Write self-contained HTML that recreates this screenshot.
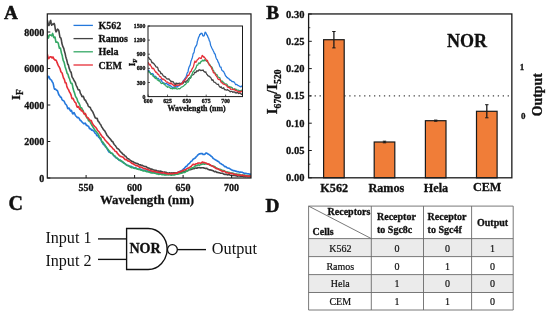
<!DOCTYPE html>
<html lang="en">
<head>
<meta charset="utf-8">
<title>NOR logic gate figure</title>
<style>
html,body{margin:0;padding:0;background:#fff;}
body{width:550px;height:319px;overflow:hidden;font-family:"Liberation Serif",serif;}
svg text{white-space:pre;}
svg text[font-weight=bold]{stroke:#111;stroke-width:.3px;}
svg text.pl{stroke-width:.5px;}
svg text.tb{stroke:#111;stroke-width:.2px;}
</style>
</head>
<body>
<svg width="550" height="319" viewBox="0 0 550 319" style="display:block">
<rect width="550" height="319" fill="#fff"/>
<g font-family="'Liberation Serif', 'Times New Roman', serif" fill="#111">
<g id="panelA">
<clipPath id="cA"><rect x="47.3" y="14" width="203.7" height="164"/></clipPath>
<g clip-path="url(#cA)">
<polyline points="47.3,79.3 47.8,77.7 48.3,76.6 48.8,76.3 49.2,77.1 49.7,78.5 50.2,79.3 50.7,79.6 51.2,80.0 51.7,80.6 52.1,81.7 52.6,82.3 53.1,83.2 53.6,85.5 54.1,87.9 54.6,89.3 55.1,89.2 55.5,89.0 56.0,89.8 56.5,90.3 57.0,90.4 57.5,90.9 58.0,92.2 58.5,93.9 58.9,94.9 59.4,95.4 59.9,96.2 60.4,97.1 60.9,97.1 61.4,97.6 61.8,99.2 62.3,100.0 62.8,100.4 63.3,100.6 63.8,100.8 64.3,101.6 64.8,102.8 65.2,103.8 65.7,104.2 66.2,104.7 66.7,105.4 67.2,106.8 67.7,108.6 68.2,108.8 68.6,108.0 69.1,108.0 69.6,109.0 70.1,110.4 70.6,111.1 71.1,110.4 71.5,110.5 72.0,111.9 72.5,113.4 73.0,114.0 73.5,113.1 74.0,112.5 74.5,113.3 74.9,114.2 75.4,115.3 75.9,116.1 76.4,116.4 76.9,117.2 77.4,117.7 77.9,117.4 78.3,117.5 78.8,117.9 79.3,118.7 79.8,119.8 80.3,120.4 80.8,120.4 81.2,120.9 81.7,121.8 82.2,122.1 82.7,122.5 83.2,123.2 83.7,123.8 84.2,123.8 84.6,123.4 85.1,123.0 85.6,123.5 86.1,125.0 86.6,125.5 87.1,125.3 87.6,125.9 88.0,126.2 88.5,126.2 89.0,127.3 89.5,128.6 90.0,128.9 90.5,128.6 90.9,129.0 91.4,130.0 91.9,130.3 92.4,130.0 92.9,130.3 93.4,130.9 93.9,131.1 94.3,131.8 94.8,133.0 95.3,133.2 95.8,133.4 96.3,134.5 96.8,135.6 97.3,135.6 97.7,135.3 98.2,136.2 98.7,137.3 99.2,137.6 99.7,138.4 100.2,139.0 100.7,139.2 101.1,140.1 101.6,141.3 102.1,142.3 102.6,142.9 103.1,144.1 103.6,144.7 104.0,144.3 104.5,144.7 105.0,145.8 105.5,146.8 106.0,147.1 106.5,147.3 107.0,148.2 107.4,149.4 107.9,150.3 108.4,151.0 108.9,151.9 109.4,152.3 109.9,152.3 110.3,152.7 110.8,153.1 111.3,153.2 111.8,153.2 112.3,153.7 112.8,154.4 113.3,155.0 113.7,155.7 114.2,156.1 114.7,156.4 115.2,157.1 115.7,157.6 116.2,158.0 116.7,158.0 117.1,158.1 117.6,158.7 118.1,159.3 118.6,159.8 119.1,160.3 119.6,160.4 120.0,160.0 120.5,160.1 121.0,160.8 121.5,161.5 122.0,161.7 122.5,162.0 123.0,162.2 123.4,162.5 123.9,162.8 124.4,163.2 124.9,163.7 125.4,164.2 125.9,164.6 126.4,164.8 126.8,165.0 127.3,165.2 127.8,165.4 128.3,165.5 128.8,165.7 129.3,166.2 129.8,166.5 130.2,166.5 130.7,166.3 131.2,166.3 131.7,166.7 132.2,167.0 132.7,167.2 133.1,167.5 133.6,167.6 134.1,168.0 134.6,168.3 135.1,167.7 135.6,167.8 136.1,168.4 136.5,168.6 137.0,168.6 137.5,168.9 138.0,169.2 138.5,169.2 139.0,169.1 139.4,169.1 139.9,169.1 140.4,169.1 140.9,169.2 141.4,169.6 141.9,170.0 142.4,170.3 142.8,170.3 143.3,170.1 143.8,170.2 144.3,170.4 144.8,170.5 145.3,170.8 145.8,170.9 146.2,171.0 146.7,171.0 147.2,170.9 147.7,171.0 148.2,171.4 148.7,171.6 149.1,171.5 149.6,171.5 150.1,171.4 150.6,171.3 151.1,171.6 151.6,172.0 152.1,172.3 152.5,172.5 153.0,172.7 153.5,172.7 154.0,172.8 154.5,172.7 155.0,172.7 155.5,172.9 155.9,173.1 156.4,173.1 156.9,173.0 157.4,172.9 157.9,173.0 158.4,173.1 158.8,173.2 159.3,173.5 159.8,173.4 160.3,173.4 160.8,173.7 161.3,173.7 161.8,173.6 162.2,173.8 162.7,173.9 163.2,173.9 163.7,174.1 164.2,174.2 164.7,174.4 165.2,174.5 165.6,174.4 166.1,174.3 166.6,174.3 167.1,174.4 167.6,174.4 168.1,174.1 168.6,174.0 169.0,174.2 169.5,174.3 170.0,174.3 170.5,174.1 171.0,174.2 171.5,174.3 171.9,173.8 172.4,173.6 172.9,173.9 173.4,173.8 173.9,173.6 174.4,173.5 174.9,173.4 175.3,173.4 175.8,173.1 176.3,172.7 176.8,172.7 177.3,172.6 177.8,172.4 178.2,172.1 178.7,171.8 179.2,171.7 179.7,171.5 180.2,171.2 180.7,170.9 181.2,170.7 181.6,170.7 182.1,170.2 182.6,169.8 183.1,169.3 183.6,168.7 184.1,168.6 184.6,168.2 185.0,167.5 185.5,166.9 186.0,166.4 186.5,166.2 187.0,166.0 187.5,165.3 187.9,164.5 188.4,164.1 188.9,163.8 189.4,163.4 189.9,162.9 190.4,162.2 190.9,161.4 191.3,161.2 191.8,161.0 192.3,160.4 192.8,159.6 193.3,159.1 193.8,158.9 194.3,158.5 194.7,158.2 195.2,158.1 195.7,157.5 196.2,156.7 196.7,156.3 197.2,155.7 197.6,155.1 198.1,154.8 198.6,154.5 199.1,153.9 199.6,153.9 200.1,153.9 200.6,153.6 201.0,153.5 201.5,153.6 202.0,153.5 202.5,153.8 203.0,154.4 203.5,154.5 204.0,154.4 204.4,154.5 204.9,154.3 205.4,153.6 205.9,153.0 206.4,153.1 206.9,153.3 207.3,153.5 207.8,154.0 208.3,154.1 208.8,154.2 209.3,154.8 209.8,155.2 210.3,155.3 210.7,155.9 211.2,156.3 211.7,156.5 212.2,157.0 212.7,157.9 213.2,158.4 213.7,158.6 214.1,159.0 214.6,159.4 215.1,159.6 215.6,159.9 216.1,160.3 216.6,160.5 217.1,160.8 217.5,161.3 218.0,161.4 218.5,161.5 219.0,162.1 219.5,162.7 220.0,163.2 220.4,163.5 220.9,163.6 221.4,163.9 221.9,164.4 222.4,164.7 222.9,164.8 223.4,165.3 223.8,165.7 224.3,166.2 224.8,166.6 225.3,166.5 225.8,166.5 226.3,167.1 226.8,167.6 227.2,167.8 227.7,168.0 228.2,168.1 228.7,168.2 229.2,168.3 229.7,168.6 230.1,168.9 230.6,169.2 231.1,169.6 231.6,170.0 232.1,170.1 232.6,170.2 233.1,170.5 233.5,170.7 234.0,170.6 234.5,170.7 235.0,171.0 235.5,171.1 236.0,171.1 236.4,171.3 236.9,171.6 237.4,171.7 237.9,171.6 238.4,171.7 238.9,171.9 239.4,172.1 239.8,172.2 240.3,172.1 240.8,172.1 241.3,172.3 241.8,172.2 242.3,172.3 242.8,172.6 243.2,172.8 243.7,173.1 244.2,173.4 244.7,173.4 245.2,173.3 245.7,173.3 246.1,173.4 246.6,173.5 247.1,173.7 247.6,173.7 248.1,173.8 248.6,173.9 249.1,173.9 249.5,174.1 250.0,174.2 250.5,174.2 251.0,174.0" fill="none" stroke="#2478dc" stroke-width="1.6" stroke-linejoin="round" stroke-linecap="round"/>
<polyline points="47.3,20.3 47.8,22.3 48.3,24.3 48.8,25.5 49.2,25.0 49.7,23.5 50.2,21.0 50.7,20.4 51.2,23.2 51.7,25.2 52.1,24.8 52.6,24.1 53.1,24.3 53.6,24.4 54.1,23.4 54.6,24.5 55.1,27.8 55.5,30.5 56.0,31.8 56.5,31.5 57.0,30.0 57.5,29.2 58.0,29.5 58.5,30.0 58.9,31.0 59.4,34.1 59.9,37.2 60.4,37.8 60.9,38.0 61.4,40.2 61.8,43.0 62.3,44.7 62.8,46.4 63.3,47.5 63.8,48.4 64.3,50.8 64.8,52.4 65.2,53.8 65.7,56.4 66.2,58.3 66.7,59.7 67.2,61.9 67.7,64.1 68.2,64.6 68.6,65.8 69.1,68.2 69.6,69.3 70.1,70.7 70.6,72.0 71.1,72.1 71.5,74.2 72.0,76.9 72.5,77.7 73.0,78.2 73.5,79.4 74.0,80.3 74.5,81.3 74.9,81.8 75.4,82.7 75.9,84.5 76.4,85.8 76.9,86.6 77.4,87.8 77.9,89.1 78.3,89.8 78.8,89.9 79.3,89.8 79.8,90.9 80.3,93.1 80.8,93.9 81.2,94.5 81.7,96.1 82.2,96.6 82.7,96.2 83.2,96.2 83.7,97.3 84.2,98.9 84.6,99.9 85.1,100.1 85.6,100.3 86.1,101.7 86.6,102.7 87.1,103.2 87.6,104.1 88.0,105.3 88.5,106.3 89.0,106.8 89.5,107.1 90.0,107.2 90.5,108.0 90.9,109.1 91.4,110.0 91.9,110.8 92.4,111.3 92.9,112.1 93.4,113.4 93.9,114.5 94.3,115.5 94.8,116.9 95.3,117.9 95.8,118.1 96.3,118.4 96.8,118.3 97.3,118.5 97.7,120.3 98.2,121.5 98.7,121.7 99.2,122.3 99.7,123.3 100.2,124.1 100.7,124.5 101.1,125.5 101.6,126.8 102.1,127.4 102.6,128.1 103.1,129.0 103.6,129.7 104.0,130.2 104.5,130.6 105.0,131.3 105.5,132.3 106.0,133.2 106.5,134.3 107.0,135.4 107.4,135.8 107.9,136.2 108.4,137.0 108.9,137.5 109.4,138.1 109.9,138.6 110.3,139.1 110.8,139.6 111.3,140.5 111.8,141.4 112.3,141.3 112.8,141.7 113.3,142.8 113.7,143.7 114.2,144.5 114.7,145.0 115.2,145.4 115.7,146.1 116.2,146.9 116.7,147.6 117.1,148.3 117.6,148.7 118.1,148.8 118.6,149.2 119.1,149.7 119.6,150.4 120.0,151.2 120.5,151.7 121.0,152.2 121.5,152.6 122.0,153.1 122.5,153.7 123.0,154.4 123.4,154.5 123.9,154.6 124.4,155.4 124.9,156.0 125.4,156.0 125.9,156.4 126.4,157.2 126.8,157.8 127.3,158.2 127.8,158.7 128.3,158.7 128.8,158.9 129.3,159.5 129.8,159.9 130.2,160.1 130.7,160.5 131.2,160.9 131.7,161.4 132.2,161.6 132.7,161.5 133.1,161.8 133.6,162.1 134.1,162.4 134.6,162.7 135.1,162.9 135.6,163.0 136.1,163.3 136.5,163.5 137.0,163.6 137.5,163.6 138.0,163.8 138.5,164.2 139.0,164.7 139.4,164.9 139.9,164.7 140.4,164.8 140.9,165.1 141.4,165.2 141.9,165.3 142.4,165.4 142.8,165.7 143.3,165.9 143.8,166.1 144.3,166.5 144.8,166.5 145.3,166.5 145.8,166.6 146.2,166.6 146.7,167.0 147.2,167.7 147.7,168.0 148.2,167.9 148.7,168.1 149.1,168.2 149.6,168.3 150.1,168.9 150.6,169.2 151.1,169.0 151.6,169.0 152.1,169.2 152.5,169.4 153.0,169.7 153.5,169.9 154.0,170.0 154.5,170.2 155.0,170.3 155.5,170.2 155.9,170.2 156.4,170.4 156.9,170.7 157.4,170.9 157.9,171.1 158.4,171.1 158.8,171.1 159.3,171.2 159.8,171.2 160.3,171.1 160.8,171.2 161.3,171.6 161.8,171.6 162.2,171.7 162.7,172.0 163.2,172.2 163.7,172.2 164.2,172.0 164.7,172.1 165.2,172.3 165.6,172.3 166.1,172.3 166.6,172.6 167.1,172.9 167.6,173.0 168.1,173.3 168.6,173.4 169.0,173.0 169.5,172.7 170.0,172.9 170.5,173.2 171.0,173.1 171.5,172.9 171.9,172.9 172.4,173.0 172.9,173.0 173.4,172.9 173.9,172.8 174.4,172.8 174.9,172.9 175.3,173.0 175.8,172.9 176.3,172.8 176.8,172.8 177.3,172.9 177.8,172.9 178.2,172.8 178.7,172.7 179.2,172.3 179.7,172.2 180.2,172.3 180.7,172.2 181.2,172.3 181.6,172.5 182.1,172.2 182.6,171.9 183.1,171.9 183.6,171.9 184.1,171.7 184.6,171.4 185.0,171.1 185.5,171.0 186.0,170.9 186.5,170.7 187.0,170.7 187.5,170.8 187.9,170.6 188.4,170.1 188.9,169.8 189.4,169.7 189.9,169.7 190.4,169.6 190.9,169.5 191.3,169.4 191.8,169.3 192.3,169.0 192.8,168.6 193.3,168.6 193.8,168.7 194.3,168.7 194.7,168.4 195.2,168.0 195.7,168.0 196.2,168.1 196.7,168.1 197.2,168.1 197.6,167.8 198.1,167.6 198.6,167.7 199.1,167.7 199.6,167.6 200.1,167.8 200.6,167.9 201.0,167.9 201.5,167.8 202.0,167.8 202.5,167.8 203.0,167.7 203.5,167.7 204.0,168.0 204.4,168.3 204.9,168.3 205.4,168.4 205.9,168.6 206.4,168.4 206.9,168.4 207.3,168.8 207.8,169.2 208.3,169.4 208.8,169.5 209.3,169.9 209.8,170.0 210.3,169.9 210.7,170.1 211.2,170.1 211.7,170.2 212.2,170.5 212.7,170.6 213.2,170.7 213.7,171.1 214.1,171.5 214.6,171.7 215.1,171.6 215.6,171.4 216.1,171.7 216.6,172.2 217.1,172.4 217.5,172.4 218.0,172.4 218.5,172.6 219.0,172.7 219.5,172.8 220.0,173.0 220.4,173.1 220.9,173.2 221.4,173.3 221.9,173.2 222.4,173.2 222.9,173.4 223.4,173.8 223.8,174.1 224.3,174.2 224.8,174.4 225.3,174.4 225.8,174.2 226.3,174.2 226.8,174.6 227.2,174.8 227.7,174.9 228.2,174.8 228.7,174.6 229.2,174.5 229.7,174.9 230.1,175.2 230.6,175.3 231.1,175.3 231.6,175.4 232.1,175.5 232.6,175.5 233.1,175.5 233.5,175.3 234.0,175.3 234.5,175.4 235.0,175.6 235.5,175.7 236.0,175.7 236.4,175.9 236.9,176.0 237.4,176.1 237.9,176.1 238.4,175.9 238.9,175.9 239.4,175.9 239.8,176.0 240.3,176.3 240.8,176.3 241.3,176.2 241.8,176.2 242.3,176.2 242.8,176.2 243.2,176.3 243.7,176.6 244.2,176.6 244.7,176.4 245.2,176.5 245.7,176.7 246.1,176.5 246.6,176.4 247.1,176.5 247.6,176.7 248.1,176.8 248.6,176.8 249.1,176.6 249.5,176.6 250.0,176.7 250.5,176.8 251.0,177.0" fill="none" stroke="#444444" stroke-width="1.6" stroke-linejoin="round" stroke-linecap="round"/>
<polyline points="47.3,35.3 47.8,36.8 48.3,38.1 48.8,37.0 49.2,35.2 49.7,34.7 50.2,35.0 50.7,35.2 51.2,35.2 51.7,35.9 52.1,35.1 52.6,33.4 53.1,34.8 53.6,37.1 54.1,37.6 54.6,37.0 55.1,37.3 55.5,40.0 56.0,42.2 56.5,42.2 57.0,42.1 57.5,42.3 58.0,42.7 58.5,44.1 58.9,46.3 59.4,48.2 59.9,48.1 60.4,48.0 60.9,50.4 61.4,53.1 61.8,54.3 62.3,55.8 62.8,58.8 63.3,60.7 63.8,61.4 64.3,63.1 64.8,65.3 65.2,67.0 65.7,68.5 66.2,69.9 66.7,71.7 67.2,73.4 67.7,73.9 68.2,74.8 68.6,76.8 69.1,77.9 69.6,78.9 70.1,80.7 70.6,82.3 71.1,83.4 71.5,83.4 72.0,83.4 72.5,85.5 73.0,88.3 73.5,90.1 74.0,91.7 74.5,92.8 74.9,94.2 75.4,96.1 75.9,97.0 76.4,97.7 76.9,98.6 77.4,100.2 77.9,101.7 78.3,102.3 78.8,102.9 79.3,103.9 79.8,105.0 80.3,106.8 80.8,108.0 81.2,107.7 81.7,108.0 82.2,109.2 82.7,110.0 83.2,110.7 83.7,112.2 84.2,113.4 84.6,113.6 85.1,114.3 85.6,115.4 86.1,116.0 86.6,117.2 87.1,118.0 87.6,118.1 88.0,119.2 88.5,120.7 89.0,121.0 89.5,120.8 90.0,121.6 90.5,122.8 90.9,123.5 91.4,124.2 91.9,125.3 92.4,126.0 92.9,126.8 93.4,127.8 93.9,128.5 94.3,129.0 94.8,129.8 95.3,130.8 95.8,131.3 96.3,131.6 96.8,132.3 97.3,132.9 97.7,133.6 98.2,134.2 98.7,135.1 99.2,136.4 99.7,137.4 100.2,137.9 100.7,138.1 101.1,139.2 101.6,141.1 102.1,141.9 102.6,141.9 103.1,142.3 103.6,143.1 104.0,144.1 104.5,144.7 105.0,145.3 105.5,146.0 106.0,146.9 106.5,148.0 107.0,148.4 107.4,148.8 107.9,149.1 108.4,149.8 108.9,150.6 109.4,151.0 109.9,151.7 110.3,152.5 110.8,153.0 111.3,153.1 111.8,153.1 112.3,153.6 112.8,154.1 113.3,154.6 113.7,155.2 114.2,155.7 114.7,155.9 115.2,156.3 115.7,157.0 116.2,157.6 116.7,157.9 117.1,158.4 117.6,158.8 118.1,159.0 118.6,159.3 119.1,159.8 119.6,160.2 120.0,160.4 120.5,160.7 121.0,161.0 121.5,161.0 122.0,161.3 122.5,161.6 123.0,162.1 123.4,162.8 123.9,163.2 124.4,163.3 124.9,163.6 125.4,163.9 125.9,164.5 126.4,164.9 126.8,165.2 127.3,165.5 127.8,165.5 128.3,165.7 128.8,166.0 129.3,166.1 129.8,166.4 130.2,166.9 130.7,167.3 131.2,167.5 131.7,167.7 132.2,167.5 132.7,167.4 133.1,167.7 133.6,167.9 134.1,168.2 134.6,168.3 135.1,168.4 135.6,168.5 136.1,168.4 136.5,168.4 137.0,168.8 137.5,169.1 138.0,169.3 138.5,169.4 139.0,169.4 139.4,169.5 139.9,169.6 140.4,169.8 140.9,170.2 141.4,170.3 141.9,170.2 142.4,170.5 142.8,170.7 143.3,170.9 143.8,171.0 144.3,170.8 144.8,170.5 145.3,170.9 145.8,171.4 146.2,171.6 146.7,171.6 147.2,171.6 147.7,171.8 148.2,172.0 148.7,171.8 149.1,171.9 149.6,172.3 150.1,172.6 150.6,172.8 151.1,172.9 151.6,173.0 152.1,172.9 152.5,172.9 153.0,172.8 153.5,172.7 154.0,172.9 154.5,173.3 155.0,173.2 155.5,173.3 155.9,173.6 156.4,173.8 156.9,173.9 157.4,173.9 157.9,173.9 158.4,174.3 158.8,174.4 159.3,174.2 159.8,174.2 160.3,174.3 160.8,174.3 161.3,174.4 161.8,174.5 162.2,174.8 162.7,174.8 163.2,174.8 163.7,174.8 164.2,174.8 164.7,175.0 165.2,175.0 165.6,174.8 166.1,174.9 166.6,174.9 167.1,174.6 167.6,174.6 168.1,175.0 168.6,174.9 169.0,174.6 169.5,174.7 170.0,174.9 170.5,175.0 171.0,175.1 171.5,175.1 171.9,175.0 172.4,174.9 172.9,174.9 173.4,175.0 173.9,175.0 174.4,174.9 174.9,174.8 175.3,174.6 175.8,174.4 176.3,174.3 176.8,174.3 177.3,174.2 177.8,174.2 178.2,174.1 178.7,173.9 179.2,173.8 179.7,173.7 180.2,173.4 180.7,173.3 181.2,173.3 181.6,173.2 182.1,173.0 182.6,172.8 183.1,172.5 183.6,172.3 184.1,172.4 184.6,172.5 185.0,172.2 185.5,172.0 186.0,171.5 186.5,170.9 187.0,170.8 187.5,170.9 187.9,170.5 188.4,170.0 188.9,169.8 189.4,169.6 189.9,169.0 190.4,168.5 190.9,168.4 191.3,168.3 191.8,168.1 192.3,167.8 192.8,167.7 193.3,167.5 193.8,167.2 194.3,167.0 194.7,166.7 195.2,166.1 195.7,165.7 196.2,165.8 196.7,165.8 197.2,165.5 197.6,165.1 198.1,164.9 198.6,165.0 199.1,165.2 199.6,165.2 200.1,164.9 200.6,164.4 201.0,164.4 201.5,164.4 202.0,164.3 202.5,164.0 203.0,163.9 203.5,163.9 204.0,164.1 204.4,164.2 204.9,163.9 205.4,163.7 205.9,164.0 206.4,164.0 206.9,163.9 207.3,164.1 207.8,164.3 208.3,164.3 208.8,164.4 209.3,164.7 209.8,165.1 210.3,165.2 210.7,165.4 211.2,165.6 211.7,165.7 212.2,165.7 212.7,166.0 213.2,166.3 213.7,166.4 214.1,166.4 214.6,166.6 215.1,166.9 215.6,167.4 216.1,167.7 216.6,167.9 217.1,168.3 217.5,168.5 218.0,168.7 218.5,169.0 219.0,169.4 219.5,169.5 220.0,169.4 220.4,169.4 220.9,169.6 221.4,169.9 221.9,170.3 222.4,170.4 222.9,170.5 223.4,170.6 223.8,170.6 224.3,170.7 224.8,171.2 225.3,171.7 225.8,171.9 226.3,172.1 226.8,172.1 227.2,171.9 227.7,172.2 228.2,172.5 228.7,172.4 229.2,172.4 229.7,172.8 230.1,173.1 230.6,173.1 231.1,173.1 231.6,173.1 232.1,173.1 232.6,173.1 233.1,173.2 233.5,173.3 234.0,173.7 234.5,174.0 235.0,174.0 235.5,174.0 236.0,174.1 236.4,174.1 236.9,174.3 237.4,174.4 237.9,174.3 238.4,174.3 238.9,174.4 239.4,174.4 239.8,174.5 240.3,174.8 240.8,175.2 241.3,175.2 241.8,175.1 242.3,175.2 242.8,175.0 243.2,175.0 243.7,175.2 244.2,175.3 244.7,175.1 245.2,175.3 245.7,175.6 246.1,175.5 246.6,175.5 247.1,175.5 247.6,175.5 248.1,175.7 248.6,175.8 249.1,175.7 249.5,175.6 250.0,175.8 250.5,175.8 251.0,175.6" fill="none" stroke="#35a865" stroke-width="1.6" stroke-linejoin="round" stroke-linecap="round"/>
<polyline points="47.3,54.3 47.8,56.2 48.3,58.2 48.8,58.6 49.2,57.9 49.7,57.1 50.2,56.9 50.7,56.8 51.2,56.9 51.7,57.7 52.1,58.0 52.6,57.0 53.1,57.1 53.6,58.6 54.1,59.1 54.6,59.7 55.1,60.1 55.5,60.0 56.0,60.3 56.5,60.9 57.0,62.4 57.5,63.6 58.0,64.9 58.5,66.0 58.9,66.5 59.4,67.3 59.9,68.3 60.4,70.0 60.9,71.7 61.4,72.4 61.8,72.6 62.3,73.7 62.8,75.6 63.3,77.4 63.8,78.6 64.3,79.2 64.8,81.0 65.2,82.7 65.7,82.5 66.2,83.2 66.7,85.7 67.2,87.4 67.7,88.4 68.2,89.2 68.6,89.8 69.1,91.2 69.6,92.2 70.1,92.8 70.6,93.9 71.1,95.1 71.5,96.7 72.0,98.5 72.5,98.8 73.0,98.3 73.5,99.3 74.0,100.6 74.5,101.4 74.9,102.3 75.4,102.5 75.9,103.0 76.4,105.0 76.9,106.6 77.4,107.1 77.9,107.1 78.3,106.5 78.8,106.9 79.3,108.4 79.8,109.4 80.3,108.9 80.8,109.3 81.2,110.7 81.7,110.9 82.2,110.8 82.7,111.2 83.2,112.2 83.7,113.2 84.2,114.1 84.6,114.0 85.1,113.4 85.6,114.0 86.1,115.5 86.6,116.9 87.1,117.7 87.6,117.7 88.0,117.8 88.5,118.3 89.0,119.2 89.5,120.1 90.0,120.4 90.5,120.4 90.9,120.3 91.4,120.8 91.9,122.4 92.4,123.6 92.9,124.1 93.4,124.9 93.9,125.5 94.3,126.1 94.8,126.6 95.3,126.9 95.8,127.3 96.3,128.1 96.8,128.9 97.3,129.9 97.7,130.6 98.2,131.0 98.7,131.5 99.2,131.9 99.7,132.8 100.2,133.7 100.7,134.3 101.1,135.1 101.6,135.7 102.1,136.4 102.6,137.2 103.1,137.3 103.6,137.6 104.0,138.4 104.5,139.1 105.0,139.9 105.5,140.5 106.0,141.0 106.5,141.5 107.0,142.1 107.4,142.7 107.9,143.0 108.4,143.4 108.9,144.2 109.4,144.7 109.9,145.3 110.3,146.1 110.8,146.4 111.3,146.7 111.8,147.2 112.3,147.9 112.8,148.7 113.3,149.1 113.7,149.3 114.2,149.8 114.7,150.7 115.2,151.4 115.7,151.5 116.2,151.5 116.7,152.1 117.1,153.0 117.6,153.7 118.1,153.9 118.6,154.6 119.1,155.4 119.6,155.6 120.0,156.1 120.5,156.5 121.0,156.5 121.5,156.5 122.0,156.9 122.5,157.1 123.0,157.0 123.4,157.5 123.9,158.2 124.4,158.9 124.9,159.4 125.4,159.6 125.9,159.6 126.4,159.8 126.8,160.0 127.3,160.4 127.8,160.9 128.3,161.1 128.8,161.1 129.3,161.3 129.8,161.6 130.2,162.0 130.7,162.4 131.2,162.8 131.7,163.3 132.2,163.6 132.7,163.6 133.1,163.7 133.6,164.1 134.1,164.6 134.6,164.8 135.1,165.0 135.6,165.4 136.1,165.8 136.5,165.6 137.0,165.5 137.5,165.8 138.0,166.2 138.5,166.3 139.0,166.6 139.4,167.2 139.9,167.2 140.4,167.0 140.9,167.0 141.4,167.1 141.9,167.4 142.4,167.8 142.8,168.0 143.3,168.2 143.8,168.5 144.3,168.6 144.8,168.5 145.3,168.6 145.8,169.0 146.2,169.3 146.7,169.3 147.2,169.3 147.7,169.5 148.2,169.7 148.7,170.1 149.1,170.3 149.6,170.3 150.1,170.2 150.6,170.4 151.1,170.9 151.6,171.0 152.1,171.0 152.5,171.3 153.0,171.4 153.5,171.2 154.0,171.2 154.5,171.4 155.0,171.6 155.5,171.6 155.9,171.7 156.4,171.9 156.9,172.2 157.4,172.3 157.9,172.3 158.4,172.4 158.8,172.4 159.3,172.5 159.8,172.7 160.3,172.8 160.8,172.8 161.3,172.8 161.8,173.0 162.2,173.1 162.7,172.8 163.2,172.6 163.7,172.8 164.2,173.1 164.7,173.2 165.2,173.2 165.6,173.4 166.1,173.6 166.6,173.5 167.1,173.5 167.6,173.7 168.1,174.0 168.6,173.9 169.0,173.7 169.5,173.7 170.0,173.7 170.5,173.6 171.0,173.5 171.5,173.6 171.9,173.6 172.4,173.6 172.9,173.7 173.4,173.5 173.9,173.3 174.4,173.3 174.9,173.4 175.3,173.3 175.8,173.1 176.3,173.0 176.8,173.2 177.3,173.1 177.8,172.6 178.2,172.1 178.7,172.0 179.2,172.1 179.7,171.8 180.2,171.5 180.7,171.6 181.2,171.5 181.6,171.1 182.1,170.9 182.6,170.8 183.1,170.6 183.6,170.1 184.1,169.8 184.6,169.8 185.0,169.8 185.5,169.8 186.0,169.4 186.5,168.9 187.0,168.6 187.5,168.3 187.9,168.3 188.4,168.2 188.9,167.8 189.4,167.4 189.9,167.2 190.4,166.8 190.9,166.6 191.3,166.3 191.8,165.6 192.3,165.0 192.8,164.6 193.3,164.2 193.8,164.5 194.3,164.7 194.7,164.6 195.2,164.3 195.7,163.9 196.2,163.7 196.7,163.7 197.2,163.5 197.6,163.3 198.1,163.1 198.6,163.0 199.1,163.0 199.6,163.0 200.1,163.1 200.6,163.2 201.0,163.3 201.5,162.8 202.0,162.2 202.5,162.0 203.0,162.2 203.5,162.5 204.0,162.7 204.4,162.5 204.9,162.7 205.4,162.9 205.9,163.1 206.4,163.3 206.9,163.5 207.3,163.9 207.8,164.2 208.3,164.1 208.8,163.9 209.3,164.4 209.8,164.8 210.3,164.9 210.7,165.3 211.2,165.8 211.7,165.9 212.2,166.0 212.7,166.2 213.2,166.5 213.7,166.7 214.1,167.2 214.6,167.5 215.1,167.7 215.6,167.9 216.1,168.5 216.6,168.8 217.1,168.8 217.5,168.8 218.0,168.9 218.5,169.2 219.0,169.6 219.5,169.8 220.0,170.0 220.4,170.2 220.9,170.4 221.4,170.8 221.9,171.1 222.4,171.2 222.9,171.4 223.4,171.4 223.8,171.3 224.3,171.3 224.8,171.4 225.3,171.9 225.8,172.3 226.3,172.5 226.8,172.6 227.2,172.7 227.7,172.7 228.2,173.0 228.7,173.2 229.2,173.1 229.7,173.1 230.1,173.2 230.6,173.3 231.1,173.4 231.6,173.5 232.1,173.5 232.6,173.7 233.1,173.8 233.5,174.0 234.0,174.3 234.5,174.4 235.0,174.3 235.5,174.5 236.0,174.6 236.4,174.4 236.9,174.6 237.4,175.0 237.9,175.2 238.4,175.1 238.9,175.0 239.4,175.1 239.8,175.2 240.3,175.2 240.8,175.2 241.3,175.3 241.8,175.3 242.3,175.1 242.8,175.1 243.2,175.4 243.7,175.7 244.2,175.6 244.7,175.6 245.2,175.7 245.7,175.8 246.1,175.8 246.6,175.9 247.1,176.0 247.6,176.0 248.1,176.2 248.6,176.2 249.1,176.0 249.5,175.9 250.0,176.1 250.5,176.2 251.0,176.1" fill="none" stroke="#e62e37" stroke-width="1.6" stroke-linejoin="round" stroke-linecap="round"/>
</g>
<rect x="47.3" y="13.9" width="203.7" height="164.1" fill="none" stroke="#1a1a1a" stroke-width="1.2"/>
<line x1="47.3" x2="50.3" y1="178.0" y2="178.0" stroke="#1a1a1a" stroke-width="1"/>
<text x="44.2" y="181.5" font-size="10" font-weight="bold" text-anchor="end">0</text>
<line x1="47.3" x2="50.3" y1="141.5" y2="141.5" stroke="#1a1a1a" stroke-width="1"/>
<text x="44.2" y="145.0" font-size="10" font-weight="bold" text-anchor="end">2000</text>
<line x1="47.3" x2="50.3" y1="105.0" y2="105.0" stroke="#1a1a1a" stroke-width="1"/>
<text x="44.2" y="108.5" font-size="10" font-weight="bold" text-anchor="end">4000</text>
<line x1="47.3" x2="50.3" y1="68.5" y2="68.5" stroke="#1a1a1a" stroke-width="1"/>
<text x="44.2" y="72.0" font-size="10" font-weight="bold" text-anchor="end">6000</text>
<line x1="47.3" x2="50.3" y1="32.0" y2="32.0" stroke="#1a1a1a" stroke-width="1"/>
<text x="44.2" y="35.5" font-size="10" font-weight="bold" text-anchor="end">8000</text>
<line x1="86.1" x2="86.1" y1="178" y2="175" stroke="#1a1a1a" stroke-width="1"/>
<text x="86.1" y="190.5" font-size="10" font-weight="bold" text-anchor="middle">550</text>
<line x1="134.6" x2="134.6" y1="178" y2="175" stroke="#1a1a1a" stroke-width="1"/>
<text x="134.6" y="190.5" font-size="10" font-weight="bold" text-anchor="middle">600</text>
<line x1="183.1" x2="183.1" y1="178" y2="175" stroke="#1a1a1a" stroke-width="1"/>
<text x="183.1" y="190.5" font-size="10" font-weight="bold" text-anchor="middle">650</text>
<line x1="231.6" x2="231.6" y1="178" y2="175" stroke="#1a1a1a" stroke-width="1"/>
<text x="231.6" y="190.5" font-size="10" font-weight="bold" text-anchor="middle">700</text>
<text x="147" y="203.8" font-size="12.8" font-weight="bold" text-anchor="middle">Wavelength (nm)</text>
<text transform="translate(19.9,100) rotate(-90)" font-size="13" font-weight="bold">I<tspan font-size="9.3" dy="3.2">F</tspan></text>
<text class="pl" x="4.0" y="19" font-size="19.2" font-weight="bold">A</text>
<line x1="73.5" x2="92.9" y1="25.4" y2="25.4" stroke="#2478dc" stroke-width="1.3"/>
<text x="98.5" y="29.0" font-size="10" font-weight="bold">K562</text>
<line x1="73.5" x2="92.9" y1="38.6" y2="38.6" stroke="#444444" stroke-width="1.3"/>
<text x="98.5" y="42.2" font-size="10" font-weight="bold">Ramos</text>
<line x1="73.5" x2="92.9" y1="51.8" y2="51.8" stroke="#35a865" stroke-width="1.3"/>
<text x="98.5" y="55.4" font-size="10" font-weight="bold">Hela</text>
<line x1="73.5" x2="92.9" y1="65.0" y2="65.0" stroke="#e62e37" stroke-width="1.3"/>
<text x="98.5" y="68.6" font-size="10" font-weight="bold">CEM</text>
<clipPath id="cI"><rect x="148" y="26" width="94.5" height="70.6"/></clipPath>
<g clip-path="url(#cI)">
<polyline points="148.2,71.5 148.6,70.1 149.0,70.3 149.4,71.8 149.7,72.3 150.1,72.5 150.5,73.1 150.9,73.9 151.3,73.9 151.7,73.6 152.1,73.5 152.5,73.7 152.8,73.8 153.2,74.0 153.6,74.9 154.0,75.9 154.4,76.8 154.8,76.7 155.2,76.2 155.6,76.6 155.9,76.9 156.3,77.3 156.7,78.0 157.1,78.2 157.5,78.5 157.9,78.5 158.3,78.3 158.6,78.7 159.0,79.6 159.4,80.0 159.8,80.0 160.2,79.9 160.6,79.5 161.0,79.3 161.4,80.2 161.7,81.2 162.1,81.8 162.5,82.4 162.9,82.8 163.3,83.0 163.7,83.1 164.1,83.0 164.5,83.0 164.8,83.4 165.2,84.0 165.6,84.1 166.0,83.6 166.4,83.5 166.8,83.6 167.2,83.9 167.5,84.3 167.9,84.9 168.3,84.7 168.7,84.7 169.1,85.6 169.5,85.5 169.9,85.3 170.3,85.8 170.6,85.9 171.0,86.1 171.4,86.7 171.8,86.9 172.2,87.2 172.6,87.4 173.0,87.4 173.4,87.2 173.7,87.0 174.1,87.2 174.5,87.2 174.9,86.5 175.3,86.3 175.7,86.8 176.1,87.1 176.5,87.0 176.8,86.6 177.2,86.8 177.6,87.0 178.0,85.9 178.4,85.3 178.8,85.9 179.2,85.7 179.5,85.2 179.9,84.9 180.3,84.6 180.7,84.7 181.1,84.0 181.5,83.0 181.9,83.0 182.3,82.8 182.6,82.2 183.0,81.4 183.4,80.6 183.8,80.2 184.2,79.8 184.6,79.2 185.0,78.2 185.4,77.9 185.7,77.8 186.1,76.6 186.5,75.5 186.9,74.1 187.3,72.7 187.7,72.5 188.1,71.4 188.4,69.4 188.8,68.0 189.2,66.7 189.6,66.0 190.0,65.5 190.4,63.9 190.8,61.8 191.2,60.6 191.5,59.9 191.9,58.8 192.3,57.7 192.7,55.9 193.1,53.8 193.5,53.1 193.9,52.9 194.3,51.2 194.6,49.0 195.0,47.7 195.4,47.2 195.8,46.4 196.2,45.6 196.6,45.2 197.0,43.8 197.3,41.6 197.7,40.5 198.1,39.1 198.5,37.5 198.9,36.9 199.3,35.9 199.7,34.3 200.1,34.3 200.4,34.5 200.8,33.6 201.2,33.3 201.6,33.6 202.0,33.4 202.4,34.2 202.8,35.8 203.2,36.0 203.5,35.8 203.9,36.0 204.3,35.4 204.7,33.7 205.1,32.2 205.5,32.3 205.9,32.9 206.2,33.5 206.6,34.8 207.0,35.1 207.4,35.2 207.8,36.8 208.2,37.8 208.6,38.1 209.0,39.5 209.3,40.8 209.7,41.1 210.1,42.4 210.5,44.8 210.9,46.0 211.3,46.7 211.7,47.7 212.1,48.6 212.4,49.1 212.8,49.8 213.2,50.8 213.6,51.5 214.0,52.3 214.4,53.6 214.8,53.9 215.2,54.1 215.5,55.6 215.9,57.2 216.3,58.3 216.7,59.2 217.1,59.5 217.5,60.1 217.9,61.6 218.2,62.2 218.6,62.6 219.0,63.8 219.4,65.0 219.8,66.2 220.2,67.1 220.6,67.0 221.0,67.0 221.3,68.4 221.7,69.8 222.1,70.4 222.5,70.7 222.9,71.1 223.3,71.3 223.7,71.7 224.1,72.4 224.4,73.1 224.8,73.9 225.2,74.9 225.6,75.9 226.0,76.2 226.4,76.4 226.8,77.3 227.1,77.8 227.5,77.6 227.9,77.9 228.3,78.5 228.7,78.8 229.1,78.9 229.5,79.3 229.9,80.1 230.2,80.4 230.6,80.1 231.0,80.3 231.4,80.9 231.8,81.4 232.2,81.7 232.6,81.4 233.0,81.5 233.3,81.9 233.7,81.7 234.1,82.0 234.5,82.6 234.9,83.1 235.3,84.0 235.7,84.7 236.0,84.6 236.4,84.4 236.8,84.5 237.2,84.7 237.6,85.1 238.0,85.5 238.4,85.5 238.8,85.8 239.1,86.0 239.5,86.1 239.9,86.5 240.3,86.8 240.7,86.7 241.1,86.3 241.5,86.1 241.9,86.4 242.2,87.0 242.6,87.2" fill="none" stroke="#2478dc" stroke-width="1.25" stroke-linejoin="round" stroke-linecap="round"/>
<polyline points="148.2,57.3 148.6,57.7 149.0,57.9 149.4,58.7 149.7,59.3 150.1,59.4 150.5,59.4 150.9,60.0 151.3,61.0 151.7,62.3 152.1,62.8 152.5,62.3 152.8,62.5 153.2,63.3 153.6,63.7 154.0,63.8 154.4,64.2 154.8,64.9 155.2,65.5 155.6,66.0 155.9,66.8 156.3,67.0 156.7,67.0 157.1,67.2 157.5,67.1 157.9,68.2 158.3,70.1 158.6,70.8 159.0,70.6 159.4,71.1 159.8,71.3 160.2,71.7 160.6,73.1 161.0,73.8 161.4,73.3 161.7,73.3 162.1,73.9 162.5,74.4 162.9,75.3 163.3,75.8 163.7,75.9 164.1,76.5 164.5,76.9 164.8,76.5 165.2,76.6 165.6,77.1 166.0,77.9 166.4,78.4 166.8,78.8 167.2,78.8 167.5,78.9 167.9,79.1 168.3,79.1 168.7,78.8 169.1,79.1 169.5,80.0 169.9,80.2 170.3,80.4 170.6,81.1 171.0,81.7 171.4,81.5 171.8,81.2 172.2,81.5 172.6,81.9 173.0,81.9 173.4,81.8 173.7,82.6 174.1,83.5 174.5,83.8 174.9,84.4 175.3,84.8 175.7,83.8 176.1,83.0 176.5,83.4 176.8,84.2 177.2,84.0 177.6,83.4 178.0,83.4 178.4,83.6 178.8,83.6 179.2,83.4 179.5,83.1 179.9,83.1 180.3,83.5 180.7,83.7 181.1,83.5 181.5,83.3 181.9,83.2 182.3,83.5 182.6,83.4 183.0,83.3 183.4,83.0 183.8,81.9 184.2,81.6 184.6,81.9 185.0,81.7 185.4,81.9 185.7,82.3 186.1,81.6 186.5,80.8 186.9,80.8 187.3,80.8 187.7,80.4 188.1,79.6 188.4,78.8 188.8,78.6 189.2,78.2 189.6,77.7 190.0,77.9 190.4,78.1 190.8,77.6 191.2,76.2 191.5,75.4 191.9,75.2 192.3,75.1 192.7,75.0 193.1,74.7 193.5,74.5 193.9,74.1 194.3,73.3 194.6,72.4 195.0,72.3 195.4,72.5 195.8,72.6 196.2,71.9 196.6,70.9 197.0,70.7 197.3,71.0 197.7,71.2 198.1,71.1 198.5,70.3 198.9,69.8 199.3,69.9 199.7,70.1 200.1,69.9 200.4,70.2 200.8,70.6 201.2,70.6 201.6,70.3 202.0,70.2 202.4,70.4 202.8,70.1 203.2,70.0 203.5,70.9 203.9,71.5 204.3,71.5 204.7,71.9 205.1,72.4 205.5,72.0 205.9,71.8 206.2,72.9 206.6,74.0 207.0,74.4 207.4,74.8 207.8,75.6 208.2,75.8 208.6,75.8 209.0,76.3 209.3,76.3 209.7,76.4 210.1,77.2 210.5,77.5 210.9,77.7 211.3,78.8 211.7,79.9 212.1,80.4 212.4,80.1 212.8,79.7 213.2,80.3 213.6,81.5 214.0,82.2 214.4,82.2 214.8,82.3 215.2,82.6 215.5,82.8 215.9,83.2 216.3,83.7 216.7,84.0 217.1,84.2 217.5,84.4 217.9,84.3 218.2,84.2 218.6,84.8 219.0,85.8 219.4,86.5 219.8,86.7 220.2,87.4 220.6,87.4 221.0,86.8 221.3,86.9 221.7,87.7 222.1,88.4 222.5,88.5 222.9,88.4 223.3,87.9 223.7,87.7 224.1,88.5 224.4,89.5 224.8,89.8 225.2,89.6 225.6,89.8 226.0,90.1 226.4,90.2 226.8,90.2 227.1,89.8 227.5,89.5 227.9,89.9 228.3,90.4 228.7,90.5 229.1,90.8 229.5,91.1 229.9,91.4 230.2,91.8 230.6,91.7 231.0,91.3 231.4,91.3 231.8,91.3 232.2,91.5 232.6,92.2 233.0,92.3 233.3,91.9 233.7,91.9 234.1,92.0 234.5,91.9 234.9,92.3 235.3,92.9 235.7,92.9 236.0,92.4 236.4,92.8 236.8,93.1 237.2,92.7 237.6,92.4 238.0,92.7 238.4,93.2 238.8,93.6 239.1,93.4 239.5,92.9 239.9,93.0 240.3,93.3 240.7,93.6 241.1,94.1 241.5,94.4 241.9,94.1 242.2,93.9 242.6,94.2" fill="none" stroke="#444444" stroke-width="1.25" stroke-linejoin="round" stroke-linecap="round"/>
<polyline points="148.2,71.5 148.6,71.8 149.0,72.1 149.4,71.9 149.7,71.9 150.1,72.8 150.5,73.8 150.9,74.3 151.3,74.4 151.7,74.5 152.1,74.8 152.5,74.9 152.8,75.4 153.2,76.6 153.6,76.7 154.0,76.5 154.4,77.2 154.8,77.8 155.2,78.2 155.6,78.6 155.9,78.0 156.3,77.3 156.7,78.2 157.1,79.6 157.5,80.2 157.9,80.0 158.3,80.0 158.6,80.7 159.0,81.0 159.4,80.7 159.8,80.9 160.2,81.8 160.6,82.7 161.0,83.2 161.4,83.5 161.7,83.6 162.1,83.3 162.5,83.3 162.9,83.2 163.3,82.8 163.7,83.5 164.1,84.4 164.5,84.3 164.8,84.4 165.2,85.3 165.6,85.8 166.0,86.0 166.4,86.1 166.8,86.1 167.2,87.0 167.5,87.3 167.9,86.9 168.3,86.9 168.7,86.9 169.1,87.1 169.5,87.2 169.9,87.6 170.3,88.3 170.6,88.5 171.0,88.3 171.4,88.3 171.8,88.4 172.2,88.9 172.6,88.8 173.0,88.4 173.4,88.5 173.7,88.5 174.1,87.7 174.5,87.8 174.9,88.8 175.3,88.5 175.7,87.7 176.1,88.1 176.5,88.7 176.8,89.0 177.2,89.1 177.6,89.0 178.0,88.8 178.4,88.5 178.8,88.6 179.2,88.9 179.5,88.8 179.9,88.6 180.3,88.4 180.7,87.9 181.1,87.3 181.5,87.1 181.9,87.0 182.3,86.8 182.6,86.7 183.0,86.5 183.4,86.1 183.8,85.7 184.2,85.4 184.6,84.7 185.0,84.5 185.4,84.5 185.7,84.2 186.1,83.7 186.5,83.1 186.9,82.5 187.3,81.9 187.7,82.1 188.1,82.3 188.4,81.7 188.8,81.0 189.2,79.7 189.6,78.4 190.0,78.1 190.4,78.3 190.8,77.4 191.2,75.9 191.5,75.4 191.9,74.9 192.3,73.5 192.7,72.1 193.1,71.7 193.5,71.7 193.9,70.9 194.3,70.3 194.6,70.1 195.0,69.6 195.4,68.8 195.8,68.2 196.2,67.4 196.6,65.9 197.0,65.0 197.3,65.3 197.7,65.1 198.1,64.3 198.5,63.4 198.9,62.8 199.3,63.1 199.7,63.5 200.1,63.5 200.4,62.7 200.8,61.6 201.2,61.4 201.6,61.6 202.0,61.2 202.4,60.4 202.8,60.1 203.2,60.3 203.5,60.7 203.9,61.1 204.3,60.3 204.7,59.7 205.1,60.5 205.5,60.5 205.9,60.1 206.2,60.7 206.6,61.2 207.0,61.3 207.4,61.4 207.8,62.3 208.2,63.3 208.6,63.6 209.0,64.1 209.3,64.6 209.7,64.8 210.1,64.9 210.5,65.7 210.9,66.5 211.3,66.7 211.7,66.8 212.1,67.3 212.4,68.1 212.8,69.3 213.2,70.0 213.6,70.6 214.0,71.6 214.4,72.1 214.8,72.5 215.2,73.5 215.5,74.4 215.9,74.7 216.3,74.4 216.7,74.3 217.1,74.8 217.5,75.8 217.9,76.6 218.2,77.1 218.6,77.3 219.0,77.6 219.4,77.6 219.8,77.8 220.2,79.0 220.6,80.3 221.0,80.9 221.3,81.4 221.7,81.3 222.1,80.9 222.5,81.6 222.9,82.4 223.3,82.2 223.7,82.2 224.1,83.1 224.4,83.8 224.8,84.0 225.2,83.9 225.6,83.8 226.0,83.8 226.4,84.0 226.8,84.2 227.1,84.6 227.5,85.4 227.9,86.4 228.3,86.4 228.7,86.3 229.1,86.5 229.5,86.6 229.9,87.1 230.2,87.3 230.6,86.9 231.0,87.1 231.4,87.4 231.8,87.4 232.2,87.5 232.6,88.4 233.0,89.4 233.3,89.3 233.7,89.2 234.1,89.3 234.5,88.9 234.9,88.8 235.3,89.5 235.7,89.6 236.0,89.2 236.4,89.7 236.8,90.3 237.2,90.0 237.6,90.0 238.0,90.2 238.4,90.2 238.8,90.6 239.1,90.9 239.5,90.6 239.9,90.5 240.3,90.8 240.7,90.9 241.1,90.5 241.5,90.2 241.9,90.6 242.2,90.8 242.6,91.0" fill="none" stroke="#35a865" stroke-width="1.25" stroke-linejoin="round" stroke-linecap="round"/>
<polyline points="148.2,62.6 148.6,63.1 149.0,64.2 149.4,65.1 149.7,64.7 150.1,64.3 150.5,65.1 150.9,66.1 151.3,66.4 151.7,67.3 152.1,68.7 152.5,68.7 152.8,68.2 153.2,68.3 153.6,68.4 154.0,69.2 154.4,70.2 154.8,70.7 155.2,71.3 155.6,72.1 155.9,72.4 156.3,72.1 156.7,72.3 157.1,73.4 157.5,74.1 157.9,74.1 158.3,74.2 158.6,74.6 159.0,75.2 159.4,76.1 159.8,76.7 160.2,76.6 160.6,76.5 161.0,77.1 161.4,78.3 161.7,78.7 162.1,78.6 162.5,79.2 162.9,79.5 163.3,79.1 163.7,79.1 164.1,79.7 164.5,80.1 164.8,80.2 165.2,80.4 165.6,80.8 166.0,81.6 166.4,82.0 166.8,82.0 167.2,82.1 167.5,82.0 167.9,82.4 168.3,83.0 168.7,83.2 169.1,83.1 169.5,83.2 169.9,83.8 170.3,83.9 170.6,83.2 171.0,82.8 171.4,83.2 171.8,84.1 172.2,84.3 172.6,84.2 173.0,84.8 173.4,85.3 173.7,85.0 174.1,85.0 174.5,85.6 174.9,86.2 175.3,85.9 175.7,85.4 176.1,85.5 176.5,85.4 176.8,85.1 177.2,85.1 177.6,85.2 178.0,85.2 178.4,85.4 178.8,85.4 179.2,85.0 179.5,84.4 179.9,84.4 180.3,84.6 180.7,84.4 181.1,83.9 181.5,83.8 181.9,84.1 182.3,83.9 182.6,82.6 183.0,81.3 183.4,81.2 183.8,81.3 184.2,80.5 184.6,79.8 185.0,80.0 185.4,79.7 185.7,78.8 186.1,78.2 186.5,78.0 186.9,77.4 187.3,76.2 187.7,75.4 188.1,75.3 188.4,75.5 188.8,75.4 189.2,74.3 189.6,73.3 190.0,72.4 190.4,71.6 190.8,71.6 191.2,71.3 191.5,70.2 191.9,69.3 192.3,68.7 192.7,67.8 193.1,67.3 193.5,66.4 193.9,64.6 194.3,63.1 194.6,61.9 195.0,61.0 195.4,61.7 195.8,62.4 196.2,62.0 196.6,61.2 197.0,60.2 197.3,59.8 197.7,59.7 198.1,59.2 198.5,58.8 198.9,58.2 199.3,57.8 199.7,57.9 200.1,57.9 200.4,58.1 200.8,58.5 201.2,58.6 201.6,57.4 202.0,55.8 202.4,55.4 202.8,55.9 203.2,56.7 203.5,57.1 203.9,56.7 204.3,57.0 204.7,57.8 205.1,58.2 205.5,58.7 205.9,59.3 206.2,60.1 206.6,61.0 207.0,60.7 207.4,60.3 207.8,61.5 208.2,62.6 208.6,62.9 209.0,63.8 209.3,65.1 209.7,65.5 210.1,65.5 210.5,66.3 210.9,66.8 211.3,67.4 211.7,68.6 212.1,69.6 212.4,69.9 212.8,70.6 213.2,72.1 213.6,72.9 214.0,72.8 214.4,72.9 214.8,73.0 215.2,73.9 215.5,75.0 215.9,75.4 216.3,76.0 216.7,76.6 217.1,77.0 217.5,78.0 217.9,78.9 218.2,79.1 218.6,79.5 219.0,79.6 219.4,79.4 219.8,79.4 220.2,79.7 220.6,80.8 221.0,82.0 221.3,82.4 221.7,82.7 222.1,82.9 222.5,82.9 222.9,83.6 223.3,84.2 223.7,83.9 224.1,84.0 224.4,84.3 224.8,84.5 225.2,84.8 225.6,84.9 226.0,85.0 226.4,85.4 226.8,85.8 227.1,86.4 227.5,87.1 227.9,87.2 228.3,87.2 228.7,87.5 229.1,87.7 229.5,87.4 229.9,87.9 230.2,88.9 230.6,89.3 231.0,89.0 231.4,89.0 231.8,89.2 232.2,89.3 232.6,89.4 233.0,89.4 233.3,89.7 233.7,89.6 234.1,89.0 234.5,89.0 234.9,90.0 235.3,90.6 235.7,90.5 236.0,90.4 236.4,90.8 236.8,90.9 237.2,90.9 237.6,91.2 238.0,91.4 238.4,91.6 238.8,92.0 239.1,92.0 239.5,91.5 239.9,91.3 240.3,91.6 240.7,92.0 241.1,91.7 241.5,91.2 241.9,91.2 242.2,91.7 242.6,92.0" fill="none" stroke="#e62e37" stroke-width="1.25" stroke-linejoin="round" stroke-linecap="round"/>
</g>
<rect x="148" y="26" width="94.5" height="70.6" fill="none" stroke="#1a1a1a" stroke-width="1"/>
<line x1="148" x2="150" y1="96.6" y2="96.6" stroke="#1a1a1a" stroke-width="0.7"/>
<text x="145.4" y="98.6" font-size="5.8" font-weight="bold" text-anchor="end">0</text>
<line x1="148" x2="150" y1="82.5" y2="82.5" stroke="#1a1a1a" stroke-width="0.7"/>
<text x="145.4" y="84.5" font-size="5.8" font-weight="bold" text-anchor="end">300</text>
<line x1="148" x2="150" y1="68.4" y2="68.4" stroke="#1a1a1a" stroke-width="0.7"/>
<text x="145.4" y="70.4" font-size="5.8" font-weight="bold" text-anchor="end">600</text>
<line x1="148" x2="150" y1="54.2" y2="54.2" stroke="#1a1a1a" stroke-width="0.7"/>
<text x="145.4" y="56.2" font-size="5.8" font-weight="bold" text-anchor="end">900</text>
<line x1="148" x2="150" y1="40.1" y2="40.1" stroke="#1a1a1a" stroke-width="0.7"/>
<text x="145.4" y="42.1" font-size="5.8" font-weight="bold" text-anchor="end">1200</text>
<line x1="148" x2="150" y1="26.0" y2="26.0" stroke="#1a1a1a" stroke-width="0.7"/>
<text x="145.4" y="28.0" font-size="5.8" font-weight="bold" text-anchor="end">1500</text>
<line x1="148.2" x2="148.2" y1="96.6" y2="94.6" stroke="#1a1a1a" stroke-width="0.7"/>
<text x="148.2" y="103" font-size="5.8" font-weight="bold" text-anchor="middle">600</text>
<line x1="167.5" x2="167.5" y1="96.6" y2="94.6" stroke="#1a1a1a" stroke-width="0.7"/>
<text x="167.5" y="103" font-size="5.8" font-weight="bold" text-anchor="middle">625</text>
<line x1="186.9" x2="186.9" y1="96.6" y2="94.6" stroke="#1a1a1a" stroke-width="0.7"/>
<text x="186.9" y="103" font-size="5.8" font-weight="bold" text-anchor="middle">650</text>
<line x1="206.2" x2="206.2" y1="96.6" y2="94.6" stroke="#1a1a1a" stroke-width="0.7"/>
<text x="206.2" y="103" font-size="5.8" font-weight="bold" text-anchor="middle">675</text>
<line x1="225.6" x2="225.6" y1="96.6" y2="94.6" stroke="#1a1a1a" stroke-width="0.7"/>
<text x="225.6" y="103" font-size="5.8" font-weight="bold" text-anchor="middle">700</text>
<text x="196.6" y="110.7" font-size="7.9" font-weight="bold" text-anchor="middle">Wavelength (nm)</text>
<text transform="translate(134.7,66.2) rotate(-90)" font-size="9" font-weight="bold">I<tspan font-size="6.8" dy="2">F</tspan></text>
</g>
<g id="panelB">
<line x1="309.65" x2="511.5" y1="95.9" y2="95.9" stroke="#444" stroke-width="1.2" stroke-dasharray="1.3,3.65"/>
<rect x="323.6" y="39.7" width="20.6" height="138.1" fill="#f07d38" stroke="#1a1a1a" stroke-width="1.2"/>
<line x1="333.9" x2="333.9" y1="31.5" y2="47.9" stroke="#1a1a1a" stroke-width="1.3"/>
<line x1="332.2" x2="335.6" y1="31.5" y2="31.5" stroke="#1a1a1a" stroke-width="1"/>
<line x1="332.2" x2="335.6" y1="47.9" y2="47.9" stroke="#1a1a1a" stroke-width="1"/>
<rect x="374.2" y="142.0" width="20.6" height="35.8" fill="#f07d38" stroke="#1a1a1a" stroke-width="1.2"/>
<line x1="384.5" x2="384.5" y1="141.2" y2="142.8" stroke="#1a1a1a" stroke-width="1.3"/>
<line x1="382.8" x2="386.2" y1="141.2" y2="141.2" stroke="#1a1a1a" stroke-width="1"/>
<line x1="382.8" x2="386.2" y1="142.8" y2="142.8" stroke="#1a1a1a" stroke-width="1"/>
<rect x="425.4" y="120.7" width="20.6" height="57.1" fill="#f07d38" stroke="#1a1a1a" stroke-width="1.2"/>
<line x1="435.7" x2="435.7" y1="120.1" y2="121.2" stroke="#1a1a1a" stroke-width="1.3"/>
<line x1="434.0" x2="437.4" y1="120.1" y2="120.1" stroke="#1a1a1a" stroke-width="1"/>
<line x1="434.0" x2="437.4" y1="121.2" y2="121.2" stroke="#1a1a1a" stroke-width="1"/>
<rect x="476.5" y="111.3" width="20.6" height="66.5" fill="#f07d38" stroke="#1a1a1a" stroke-width="1.2"/>
<line x1="486.8" x2="486.8" y1="104.7" y2="117.8" stroke="#1a1a1a" stroke-width="1.3"/>
<line x1="485.1" x2="488.5" y1="104.7" y2="104.7" stroke="#1a1a1a" stroke-width="1"/>
<line x1="485.1" x2="488.5" y1="117.8" y2="117.8" stroke="#1a1a1a" stroke-width="1"/>
<rect x="308.6" y="13.95" width="203.25" height="163.85" fill="none" stroke="#1a1a1a" stroke-width="1.3"/>
<line x1="308.6" x2="311.8" y1="177.8" y2="177.8" stroke="#1a1a1a" stroke-width="1"/>
<text x="304.4" y="181.3" font-size="10.5" font-weight="bold" text-anchor="end">0.00</text>
<line x1="308.6" x2="311.8" y1="150.5" y2="150.5" stroke="#1a1a1a" stroke-width="1"/>
<text x="304.4" y="154.0" font-size="10.5" font-weight="bold" text-anchor="end">0.05</text>
<line x1="308.6" x2="311.8" y1="123.2" y2="123.2" stroke="#1a1a1a" stroke-width="1"/>
<text x="304.4" y="126.7" font-size="10.5" font-weight="bold" text-anchor="end">0.10</text>
<line x1="308.6" x2="311.8" y1="95.9" y2="95.9" stroke="#1a1a1a" stroke-width="1"/>
<text x="304.4" y="99.4" font-size="10.5" font-weight="bold" text-anchor="end">0.15</text>
<line x1="308.6" x2="311.8" y1="68.6" y2="68.6" stroke="#1a1a1a" stroke-width="1"/>
<text x="304.4" y="72.1" font-size="10.5" font-weight="bold" text-anchor="end">0.20</text>
<line x1="308.6" x2="311.8" y1="41.3" y2="41.3" stroke="#1a1a1a" stroke-width="1"/>
<text x="304.4" y="44.8" font-size="10.5" font-weight="bold" text-anchor="end">0.25</text>
<line x1="308.6" x2="311.8" y1="14.0" y2="14.0" stroke="#1a1a1a" stroke-width="1"/>
<text x="304.4" y="17.5" font-size="10.5" font-weight="bold" text-anchor="end">0.30</text>
<line x1="308.6" x2="310.3" y1="164.2" y2="164.2" stroke="#1a1a1a" stroke-width="0.8"/>
<line x1="308.6" x2="310.3" y1="136.9" y2="136.9" stroke="#1a1a1a" stroke-width="0.8"/>
<line x1="308.6" x2="310.3" y1="109.6" y2="109.6" stroke="#1a1a1a" stroke-width="0.8"/>
<line x1="308.6" x2="310.3" y1="82.2" y2="82.2" stroke="#1a1a1a" stroke-width="0.8"/>
<line x1="308.6" x2="310.3" y1="55.0" y2="55.0" stroke="#1a1a1a" stroke-width="0.8"/>
<line x1="308.6" x2="310.3" y1="27.7" y2="27.7" stroke="#1a1a1a" stroke-width="0.8"/>
<text x="334.2" y="192" font-size="12.2" font-weight="bold" text-anchor="middle">K562</text>
<text x="386.4" y="192" font-size="12.2" font-weight="bold" text-anchor="middle">Ramos</text>
<text x="436.0" y="192" font-size="12.2" font-weight="bold" text-anchor="middle">Hela</text>
<text x="487.1" y="190.8" font-size="12.2" font-weight="bold" text-anchor="middle">CEM</text>
<text x="447.1" y="47" font-size="18" font-weight="bold">NOR</text>
<text x="521.9" y="69.6" font-size="9" font-weight="bold" text-anchor="middle">1</text>
<text x="523.3" y="118.6" font-size="9" font-weight="bold" text-anchor="middle">0</text>
<text transform="translate(542,94.7) rotate(-90)" font-size="13.8" font-weight="bold" text-anchor="middle">Output</text>
<text transform="translate(276.9,114.3) rotate(-90)" font-size="15" font-weight="bold">I<tspan font-size="9.7" dy="3.9">670</tspan><tspan dy="-3.9">/I</tspan><tspan font-size="9.7" dy="3.9">520</tspan></text>
<text class="pl" x="266.2" y="18.9" font-size="19.2" font-weight="bold">B</text>
</g>
<g id="panelC">
<text class="pl" x="8.6" y="210.2" font-size="20" font-weight="bold">C</text>
<text x="45.4" y="243.2" font-size="16.1">Input 1</text>
<text x="45.4" y="265.8" font-size="16.1">Input 2</text>
<line x1="98" x2="126.6" y1="238.9" y2="238.9" stroke="#111" stroke-width="1.35"/>
<line x1="98" x2="126.6" y1="259.4" y2="259.4" stroke="#111" stroke-width="1.35"/>
<path d="M126.6 228.5 H148.2 A18.9 20.5 0 0 1 148.2 269.5 H126.6 Z" fill="#fff" stroke="#111" stroke-width="1.35"/>
<circle cx="172.4" cy="249.6" r="4.95" fill="#fff" stroke="#111" stroke-width="1.3"/>
<line x1="177.5" x2="206" y1="249.6" y2="249.6" stroke="#111" stroke-width="1.35"/>
<text x="129.4" y="252.8" font-size="14.1" font-weight="bold">NOR</text>
<text x="211.8" y="254.2" font-size="16.3">Output</text>
</g>
<g id="panelD">
<text class="pl" x="265.5" y="211.6" font-size="19.2" font-weight="bold">D</text>
<rect x="308.6" y="238.6" width="204.6" height="18.0" fill="#ebebeb"/>
<rect x="308.6" y="274.6" width="204.6" height="17.9" fill="#ebebeb"/>
<line x1="308.6" x2="308.6" y1="206.1" y2="310" stroke="#6a6a6a" stroke-width="0.9"/>
<line x1="371.3" x2="371.3" y1="206.1" y2="310" stroke="#6a6a6a" stroke-width="0.9"/>
<line x1="423.5" x2="423.5" y1="206.1" y2="310" stroke="#6a6a6a" stroke-width="0.9"/>
<line x1="471.6" x2="471.6" y1="206.1" y2="310" stroke="#6a6a6a" stroke-width="0.9"/>
<line x1="513.2" x2="513.2" y1="206.1" y2="310" stroke="#6a6a6a" stroke-width="0.9"/>
<line x1="308.6" x2="513.2" y1="206.1" y2="206.1" stroke="#6a6a6a" stroke-width="0.9"/>
<line x1="308.6" x2="513.2" y1="238.6" y2="238.6" stroke="#6a6a6a" stroke-width="0.9"/>
<line x1="308.6" x2="513.2" y1="256.6" y2="256.6" stroke="#6a6a6a" stroke-width="0.9"/>
<line x1="308.6" x2="513.2" y1="274.6" y2="274.6" stroke="#6a6a6a" stroke-width="0.9"/>
<line x1="308.6" x2="513.2" y1="292.5" y2="292.5" stroke="#6a6a6a" stroke-width="0.9"/>
<line x1="308.6" x2="513.2" y1="310" y2="310" stroke="#6a6a6a" stroke-width="0.9"/>
<line x1="308.6" y1="206.1" x2="371.3" y2="238.6" stroke="#6a6a6a" stroke-width="0.9"/>
<text x="370.3" y="215.3" font-size="10" font-weight="bold" text-anchor="end">Receptors</text>
<text x="312.6" y="234.5" font-size="10" font-weight="bold">Cells</text>
<text x="377" y="220.1" font-size="10" font-weight="bold">Receptor</text>
<text x="377" y="232.7" font-size="10" font-weight="bold">to Sgc8c</text>
<text x="427.6" y="220.1" font-size="10" font-weight="bold">Receptor</text>
<text x="427.6" y="232.7" font-size="10" font-weight="bold">to Sgc4f</text>
<text x="492.6" y="225.6" font-size="10" font-weight="bold" text-anchor="middle">Output</text>
<text x="340.3" y="251.5" font-size="10" class="tb" text-anchor="middle">K562</text>
<text x="397" y="251.5" font-size="10" class="tb" text-anchor="middle">0</text>
<text x="447.5" y="251.5" font-size="10" class="tb" text-anchor="middle">0</text>
<text x="492.4" y="251.5" font-size="10" class="tb" text-anchor="middle">1</text>
<text x="340.3" y="269.5" font-size="10" class="tb" text-anchor="middle">Ramos</text>
<text x="397" y="269.5" font-size="10" class="tb" text-anchor="middle">0</text>
<text x="447.5" y="269.5" font-size="10" class="tb" text-anchor="middle">1</text>
<text x="492.4" y="269.5" font-size="10" class="tb" text-anchor="middle">0</text>
<text x="340.3" y="287.4" font-size="10" class="tb" text-anchor="middle">Hela</text>
<text x="397" y="287.4" font-size="10" class="tb" text-anchor="middle">1</text>
<text x="447.5" y="287.4" font-size="10" class="tb" text-anchor="middle">0</text>
<text x="492.4" y="287.4" font-size="10" class="tb" text-anchor="middle">0</text>
<text x="340.3" y="305.1" font-size="10" class="tb" text-anchor="middle">CEM</text>
<text x="397" y="305.1" font-size="10" class="tb" text-anchor="middle">1</text>
<text x="447.5" y="305.1" font-size="10" class="tb" text-anchor="middle">1</text>
<text x="492.4" y="305.1" font-size="10" class="tb" text-anchor="middle">0</text>
</g>
</g>
</svg>
</body>
</html>
